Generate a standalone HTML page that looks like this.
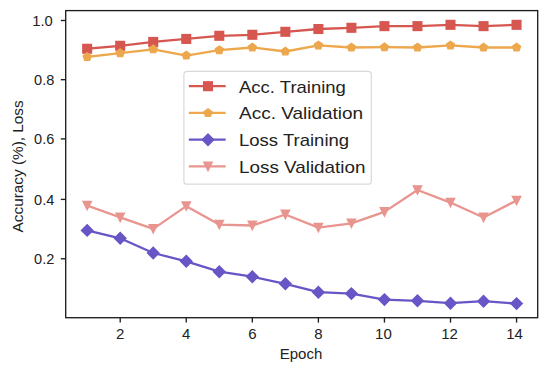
<!DOCTYPE html>
<html><head><meta charset="utf-8"><style>
html,body{margin:0;padding:0;background:#fff;width:550px;height:371px;overflow:hidden}
svg{display:block;font-family:"Liberation Sans",sans-serif}
</style></head><body>
<svg width="550" height="371" viewBox="0 0 550 371">
<polyline points="87.17,48.76 120.2,45.79 153.23,41.92 186.26,38.95 219.29,35.79 252.32,34.78 285.35,31.81 318.38,29.01 351.41,27.79 384.44,26.15 417.47,26.15 450.5,24.81 483.53,26.15 516.56,24.81" fill="none" stroke="#d65650" stroke-width="2.3" stroke-linejoin="round" stroke-linecap="square"/>
<rect x="82.84" y="44.43" width="8.66" height="8.66" fill="#d65650" stroke="#d65650" stroke-width="1.39"/>
<rect x="115.87" y="41.46" width="8.66" height="8.66" fill="#d65650" stroke="#d65650" stroke-width="1.39"/>
<rect x="148.9" y="37.59" width="8.66" height="8.66" fill="#d65650" stroke="#d65650" stroke-width="1.39"/>
<rect x="181.93" y="34.61" width="8.66" height="8.66" fill="#d65650" stroke="#d65650" stroke-width="1.39"/>
<rect x="214.96" y="31.46" width="8.66" height="8.66" fill="#d65650" stroke="#d65650" stroke-width="1.39"/>
<rect x="247.99" y="30.45" width="8.66" height="8.66" fill="#d65650" stroke="#d65650" stroke-width="1.39"/>
<rect x="281.02" y="27.47" width="8.66" height="8.66" fill="#d65650" stroke="#d65650" stroke-width="1.39"/>
<rect x="314.05" y="24.68" width="8.66" height="8.66" fill="#d65650" stroke="#d65650" stroke-width="1.39"/>
<rect x="347.08" y="23.46" width="8.66" height="8.66" fill="#d65650" stroke="#d65650" stroke-width="1.39"/>
<rect x="380.11" y="21.82" width="8.66" height="8.66" fill="#d65650" stroke="#d65650" stroke-width="1.39"/>
<rect x="413.14" y="21.82" width="8.66" height="8.66" fill="#d65650" stroke="#d65650" stroke-width="1.39"/>
<rect x="446.17" y="20.48" width="8.66" height="8.66" fill="#d65650" stroke="#d65650" stroke-width="1.39"/>
<rect x="479.2" y="21.82" width="8.66" height="8.66" fill="#d65650" stroke="#d65650" stroke-width="1.39"/>
<rect x="512.23" y="20.48" width="8.66" height="8.66" fill="#d65650" stroke="#d65650" stroke-width="1.39"/>
<polyline points="87.17,57 120.2,53.14 153.23,49.27 186.26,55.52 219.29,50.16 252.32,47.48 285.35,51.5 318.38,45.4 351.41,47.48 384.44,47.19 417.47,47.48 450.5,45.4 483.53,47.48 516.56,47.48" fill="none" stroke="#eda74c" stroke-width="2.3" stroke-linejoin="round" stroke-linecap="square"/>
<polygon points="87.17,52.84 91.13,55.72 89.62,60.37 84.72,60.37 83.21,55.72" fill="#eda74c" stroke="#eda74c" stroke-width="1.39" stroke-linejoin="miter"/>
<polygon points="120.2,48.97 124.16,51.85 122.65,56.51 117.75,56.51 116.24,51.85" fill="#eda74c" stroke="#eda74c" stroke-width="1.39" stroke-linejoin="miter"/>
<polygon points="153.23,45.1 157.19,47.98 155.68,52.64 150.78,52.64 149.27,47.98" fill="#eda74c" stroke="#eda74c" stroke-width="1.39" stroke-linejoin="miter"/>
<polygon points="186.26,51.35 190.22,54.23 188.71,58.89 183.81,58.89 182.3,54.23" fill="#eda74c" stroke="#eda74c" stroke-width="1.39" stroke-linejoin="miter"/>
<polygon points="219.29,46 223.25,48.87 221.74,53.53 216.84,53.53 215.33,48.87" fill="#eda74c" stroke="#eda74c" stroke-width="1.39" stroke-linejoin="miter"/>
<polygon points="252.32,43.32 256.28,46.2 254.77,50.85 249.87,50.85 248.36,46.2" fill="#eda74c" stroke="#eda74c" stroke-width="1.39" stroke-linejoin="miter"/>
<polygon points="285.35,47.33 289.31,50.21 287.8,54.87 282.9,54.87 281.39,50.21" fill="#eda74c" stroke="#eda74c" stroke-width="1.39" stroke-linejoin="miter"/>
<polygon points="318.38,41.24 322.34,44.11 320.83,48.77 315.93,48.77 314.42,44.11" fill="#eda74c" stroke="#eda74c" stroke-width="1.39" stroke-linejoin="miter"/>
<polygon points="351.41,43.32 355.37,46.2 353.86,50.85 348.96,50.85 347.45,46.2" fill="#eda74c" stroke="#eda74c" stroke-width="1.39" stroke-linejoin="miter"/>
<polygon points="384.44,43.02 388.4,45.9 386.89,50.56 381.99,50.56 380.48,45.9" fill="#eda74c" stroke="#eda74c" stroke-width="1.39" stroke-linejoin="miter"/>
<polygon points="417.47,43.32 421.43,46.2 419.92,50.85 415.02,50.85 413.51,46.2" fill="#eda74c" stroke="#eda74c" stroke-width="1.39" stroke-linejoin="miter"/>
<polygon points="450.5,41.24 454.46,44.11 452.95,48.77 448.05,48.77 446.54,44.11" fill="#eda74c" stroke="#eda74c" stroke-width="1.39" stroke-linejoin="miter"/>
<polygon points="483.53,43.32 487.49,46.2 485.98,50.85 481.08,50.85 479.57,46.2" fill="#eda74c" stroke="#eda74c" stroke-width="1.39" stroke-linejoin="miter"/>
<polygon points="516.56,43.32 520.52,46.2 519.01,50.85 514.11,50.85 512.6,46.2" fill="#eda74c" stroke="#eda74c" stroke-width="1.39" stroke-linejoin="miter"/>
<polyline points="87.17,230.39 120.2,238.27 153.23,253 186.26,261.3 219.29,271.71 252.32,276.71 285.35,283.79 318.38,292.21 351.41,293.61 384.44,299.61 417.47,300.8 450.5,303.21 483.53,301.19 516.56,303.6" fill="none" stroke="#6855c6" stroke-width="2.3" stroke-linejoin="round" stroke-linecap="square"/>
<polygon points="87.17,224.67 92.88,230.39 87.17,236.1 81.46,230.39" fill="#6855c6" stroke="#6855c6" stroke-width="1.39" stroke-linejoin="miter"/>
<polygon points="120.2,232.56 125.91,238.27 120.2,243.98 114.49,238.27" fill="#6855c6" stroke="#6855c6" stroke-width="1.39" stroke-linejoin="miter"/>
<polygon points="153.23,247.28 158.94,253 153.23,258.71 147.52,253" fill="#6855c6" stroke="#6855c6" stroke-width="1.39" stroke-linejoin="miter"/>
<polygon points="186.26,255.58 191.97,261.3 186.26,267.01 180.55,261.3" fill="#6855c6" stroke="#6855c6" stroke-width="1.39" stroke-linejoin="miter"/>
<polygon points="219.29,266 225,271.71 219.29,277.42 213.58,271.71" fill="#6855c6" stroke="#6855c6" stroke-width="1.39" stroke-linejoin="miter"/>
<polygon points="252.32,270.99 258.03,276.71 252.32,282.42 246.61,276.71" fill="#6855c6" stroke="#6855c6" stroke-width="1.39" stroke-linejoin="miter"/>
<polygon points="285.35,278.07 291.06,283.79 285.35,289.5 279.64,283.79" fill="#6855c6" stroke="#6855c6" stroke-width="1.39" stroke-linejoin="miter"/>
<polygon points="318.38,286.49 324.09,292.21 318.38,297.92 312.67,292.21" fill="#6855c6" stroke="#6855c6" stroke-width="1.39" stroke-linejoin="miter"/>
<polygon points="351.41,287.89 357.12,293.61 351.41,299.32 345.7,293.61" fill="#6855c6" stroke="#6855c6" stroke-width="1.39" stroke-linejoin="miter"/>
<polygon points="384.44,293.9 390.15,299.61 384.44,305.33 378.73,299.61" fill="#6855c6" stroke="#6855c6" stroke-width="1.39" stroke-linejoin="miter"/>
<polygon points="417.47,295.09 423.18,300.8 417.47,306.52 411.76,300.8" fill="#6855c6" stroke="#6855c6" stroke-width="1.39" stroke-linejoin="miter"/>
<polygon points="450.5,297.5 456.21,303.21 450.5,308.93 444.79,303.21" fill="#6855c6" stroke="#6855c6" stroke-width="1.39" stroke-linejoin="miter"/>
<polygon points="483.53,295.48 489.24,301.19 483.53,306.9 477.82,301.19" fill="#6855c6" stroke="#6855c6" stroke-width="1.39" stroke-linejoin="miter"/>
<polygon points="516.56,297.89 522.27,303.6 516.56,309.31 510.85,303.6" fill="#6855c6" stroke="#6855c6" stroke-width="1.39" stroke-linejoin="miter"/>
<polyline points="87.17,205.54 120.2,217.44 153.23,228.9 186.26,206.14 219.29,224.58 252.32,225.48 285.35,214.47 318.38,227.56 351.41,223.39 384.44,211.91 417.47,190.02 450.5,202.57 483.53,217.44 516.56,200.49" fill="none" stroke="#e9958f" stroke-width="2.3" stroke-linejoin="round" stroke-linecap="square"/>
<polygon points="83,201.38 91.34,201.38 87.17,209.71" fill="#e9958f" stroke="#e9958f" stroke-width="1.39" stroke-linejoin="miter"/>
<polygon points="116.03,213.28 124.37,213.28 120.2,221.61" fill="#e9958f" stroke="#e9958f" stroke-width="1.39" stroke-linejoin="miter"/>
<polygon points="149.07,224.73 157.4,224.73 153.23,233.06" fill="#e9958f" stroke="#e9958f" stroke-width="1.39" stroke-linejoin="miter"/>
<polygon points="182.09,201.97 190.42,201.97 186.26,210.3" fill="#e9958f" stroke="#e9958f" stroke-width="1.39" stroke-linejoin="miter"/>
<polygon points="215.13,220.42 223.46,220.42 219.29,228.75" fill="#e9958f" stroke="#e9958f" stroke-width="1.39" stroke-linejoin="miter"/>
<polygon points="248.16,221.31 256.49,221.31 252.32,229.64" fill="#e9958f" stroke="#e9958f" stroke-width="1.39" stroke-linejoin="miter"/>
<polygon points="281.19,210.31 289.52,210.31 285.35,218.63" fill="#e9958f" stroke="#e9958f" stroke-width="1.39" stroke-linejoin="miter"/>
<polygon points="314.21,223.39 322.55,223.39 318.38,231.72" fill="#e9958f" stroke="#e9958f" stroke-width="1.39" stroke-linejoin="miter"/>
<polygon points="347.25,219.23 355.58,219.23 351.41,227.56" fill="#e9958f" stroke="#e9958f" stroke-width="1.39" stroke-linejoin="miter"/>
<polygon points="380.27,207.75 388.61,207.75 384.44,216.08" fill="#e9958f" stroke="#e9958f" stroke-width="1.39" stroke-linejoin="miter"/>
<polygon points="413.31,185.85 421.64,185.85 417.47,194.18" fill="#e9958f" stroke="#e9958f" stroke-width="1.39" stroke-linejoin="miter"/>
<polygon points="446.34,198.41 454.67,198.41 450.5,206.73" fill="#e9958f" stroke="#e9958f" stroke-width="1.39" stroke-linejoin="miter"/>
<polygon points="479.37,213.28 487.7,213.28 483.53,221.61" fill="#e9958f" stroke="#e9958f" stroke-width="1.39" stroke-linejoin="miter"/>
<polygon points="512.39,196.32 520.72,196.32 516.56,204.65" fill="#e9958f" stroke="#e9958f" stroke-width="1.39" stroke-linejoin="miter"/>
<rect x="183.9" y="71.3" width="187.4" height="112.9" rx="3.3" ry="3.3" fill="#ffffff" fill-opacity="0.8" stroke="#d9d9d9" stroke-width="1.2"/>
<line x1="190" y1="86.2" x2="224.5" y2="86.2" stroke="#d65650" stroke-width="2.3" stroke-linecap="square"/>
<rect x="203.67" y="81.87" width="8.66" height="8.66" fill="#d65650" stroke="#d65650" stroke-width="1.39"/>
<text id="t_leg0" x="239" y="92.6" font-size="17" text-anchor="start" fill="#222222" textLength="106.9" lengthAdjust="spacingAndGlyphs">Acc. Training</text>
<line x1="190" y1="112.95" x2="224.5" y2="112.95" stroke="#eda74c" stroke-width="2.3" stroke-linecap="square"/>
<polygon points="208,108.78 211.96,111.66 210.45,116.32 205.55,116.32 204.04,111.66" fill="#eda74c" stroke="#eda74c" stroke-width="1.39" stroke-linejoin="miter"/>
<text id="t_leg1" x="239" y="119.35" font-size="17" text-anchor="start" fill="#222222" textLength="124.2" lengthAdjust="spacingAndGlyphs">Acc. Validation</text>
<line x1="190" y1="139.7" x2="224.5" y2="139.7" stroke="#6855c6" stroke-width="2.3" stroke-linecap="square"/>
<polygon points="208,133.99 213.71,139.7 208,145.41 202.29,139.7" fill="#6855c6" stroke="#6855c6" stroke-width="1.39" stroke-linejoin="miter"/>
<text id="t_leg2" x="239" y="146.1" font-size="17" text-anchor="start" fill="#222222" textLength="110.1" lengthAdjust="spacingAndGlyphs">Loss Training</text>
<line x1="190" y1="166.45" x2="224.5" y2="166.45" stroke="#e9958f" stroke-width="2.3" stroke-linecap="square"/>
<polygon points="203.84,162.28 212.16,162.28 208,170.61" fill="#e9958f" stroke="#e9958f" stroke-width="1.39" stroke-linejoin="miter"/>
<text id="t_leg3" x="239" y="172.85" font-size="17" text-anchor="start" fill="#222222" textLength="126.5" lengthAdjust="spacingAndGlyphs">Loss Validation</text>
<rect x="65.7" y="10.6" width="472" height="307.1" fill="none" stroke="#1e1e1e" stroke-width="1.35"/>
<line x1="60.8" y1="258.75" x2="65.7" y2="258.75" stroke="#1e1e1e" stroke-width="1.35"/>
<text id="t_y0.2" x="54.3" y="264.25" font-size="15" text-anchor="end" fill="#222222" textLength="20.2" lengthAdjust="spacingAndGlyphs">0.2</text>
<line x1="60.8" y1="199.4" x2="65.7" y2="199.4" stroke="#1e1e1e" stroke-width="1.35"/>
<text id="t_y0.4" x="54.3" y="204.9" font-size="15" text-anchor="end" fill="#222222" textLength="20.2" lengthAdjust="spacingAndGlyphs">0.4</text>
<line x1="60.8" y1="138.9" x2="65.7" y2="138.9" stroke="#1e1e1e" stroke-width="1.35"/>
<text id="t_y0.6" x="54.3" y="144.4" font-size="15" text-anchor="end" fill="#222222" textLength="20.2" lengthAdjust="spacingAndGlyphs">0.6</text>
<line x1="60.8" y1="79.7" x2="65.7" y2="79.7" stroke="#1e1e1e" stroke-width="1.35"/>
<text id="t_y0.8" x="54.3" y="85.2" font-size="15" text-anchor="end" fill="#222222" textLength="20.2" lengthAdjust="spacingAndGlyphs">0.8</text>
<line x1="60.8" y1="20.5" x2="65.7" y2="20.5" stroke="#1e1e1e" stroke-width="1.35"/>
<text id="t_y1.0" x="52.7" y="26" font-size="15" text-anchor="end" fill="#222222" textLength="20.5" lengthAdjust="spacingAndGlyphs">1.0</text>
<line x1="120.2" y1="317.7" x2="120.2" y2="322.6" stroke="#1e1e1e" stroke-width="1.35"/>
<text id="t_x2" x="120.2" y="339" font-size="15" text-anchor="middle" fill="#222222">2</text>
<line x1="186.26" y1="317.7" x2="186.26" y2="322.6" stroke="#1e1e1e" stroke-width="1.35"/>
<text id="t_x4" x="186.26" y="339" font-size="15" text-anchor="middle" fill="#222222">4</text>
<line x1="252.32" y1="317.7" x2="252.32" y2="322.6" stroke="#1e1e1e" stroke-width="1.35"/>
<text id="t_x6" x="252.32" y="339" font-size="15" text-anchor="middle" fill="#222222">6</text>
<line x1="318.38" y1="317.7" x2="318.38" y2="322.6" stroke="#1e1e1e" stroke-width="1.35"/>
<text id="t_x8" x="318.38" y="339" font-size="15" text-anchor="middle" fill="#222222">8</text>
<line x1="384.44" y1="317.7" x2="384.44" y2="322.6" stroke="#1e1e1e" stroke-width="1.35"/>
<text id="t_x10" x="383.44" y="339" font-size="15" text-anchor="middle" fill="#222222">10</text>
<line x1="450.5" y1="317.7" x2="450.5" y2="322.6" stroke="#1e1e1e" stroke-width="1.35"/>
<text id="t_x12" x="449.5" y="339" font-size="15" text-anchor="middle" fill="#222222">12</text>
<line x1="516.56" y1="317.7" x2="516.56" y2="322.6" stroke="#1e1e1e" stroke-width="1.35"/>
<text id="t_x14" x="514.56" y="339" font-size="15" text-anchor="middle" fill="#222222">14</text>
<text id="t_epoch" x="301" y="359.4" font-size="15" text-anchor="middle" fill="#222222" textLength="42.5" lengthAdjust="spacingAndGlyphs">Epoch</text>
<g transform="translate(22.5,166.35) rotate(-90)"><text id="t_ylab" x="0" y="0" font-size="14.5" text-anchor="middle" fill="#222222" textLength="132.1" lengthAdjust="spacingAndGlyphs">Accuracy (%), Loss</text></g>
</svg>
</body></html>
